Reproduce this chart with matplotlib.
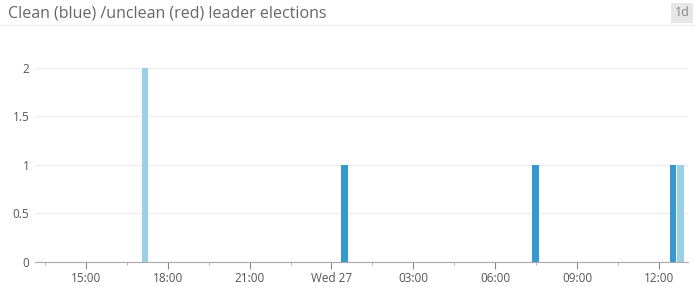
import matplotlib
matplotlib.use("Agg")
import matplotlib.pyplot as plt
import matplotlib.dates as mdates
from matplotlib.ticker import MultipleLocator
from datetime import datetime

# 15-minute buckets
clean_times = ["2016-01-26 17:10", "2016-01-27 12:47"]
clean_values = [2, 1]
leader_times = ["2016-01-27 00:29", "2016-01-27 07:28", "2016-01-27 12:31"]
leader_values = [1, 1, 1]

x_start = "2016-01-26 13:08"
x_end = "2016-01-27 13:04"
y_ticks = [0, 0.5, 1, 1.5, 2]
y_labels = ["0", "0.5", "1", "1.5", "2"]

LIGHT = "#9bcfe8"
DARK = "#3598ce"
TEXT = "#555555"

plt.rcParams["font.family"] = ["Open Sans", "DejaVu Sans"]

def parse(ts):
    return [datetime.strptime(t, "%Y-%m-%d %H:%M") for t in ts]

fig = plt.figure(figsize=(6.95, 2.87), dpi=100)
ax = fig.add_axes([35 / 695, 1 - 262 / 287, (688 - 35) / 695, (262 - 58) / 287])

width = 15 / (24 * 60)
ax.bar(parse(clean_times), clean_values, width=width, color=LIGHT, zorder=3)
ax.bar(parse(leader_times), leader_values, width=width, color=DARK, zorder=3)

ax.set_xlim(*parse([x_start, x_end]))
ax.set_ylim(0, 2.1)
ax.set_yticks(y_ticks)
ax.set_yticklabels(y_labels)
ax.grid(axis="y", color="#ececec", linewidth=0.9, zorder=0)

ax.xaxis.set_major_locator(mdates.HourLocator(byhour=range(0, 24, 3)))
# minor ticks half way between the 3-hour labels
ax.xaxis.set_minor_locator(MultipleLocator(0.125, offset=0.0625))

def fmt(x, pos):
    d = mdates.num2date(x)
    if d.hour == 0:
        return d.strftime("%a %d")
    return d.strftime("%H:%M")

ax.xaxis.set_major_formatter(plt.FuncFormatter(fmt))

for s in ["top", "right", "left"]:
    ax.spines[s].set_visible(False)
ax.spines["bottom"].set_color("#aaaaaa")
ax.tick_params(axis="y", length=0, labelsize=8.5, labelcolor=TEXT, pad=4)
ax.tick_params(axis="x", which="major", length=5, color="#888888", labelsize=8.5, labelcolor=TEXT, pad=2)
ax.tick_params(axis="x", which="minor", length=2, color="#aaaaaa")

# header
fig.text(8 / 695, 1 - 13 / 287, "Clean (blue) /unclean (red) leader elections",
         fontsize=11.5, color="#666666", va="center", ha="left")
fig.text(682 / 695, 1 - 13 / 287, "1d", fontsize=9, color="#888888", va="center", ha="center",
         bbox=dict(boxstyle="square,pad=0.3", fc="#e6e6e6", ec="none"))
fig.add_artist(plt.Line2D([0, 1], [1 - 25 / 287, 1 - 25 / 287], color="#eeeeee", linewidth=1))

fig.savefig("out.png", dpi=100)
